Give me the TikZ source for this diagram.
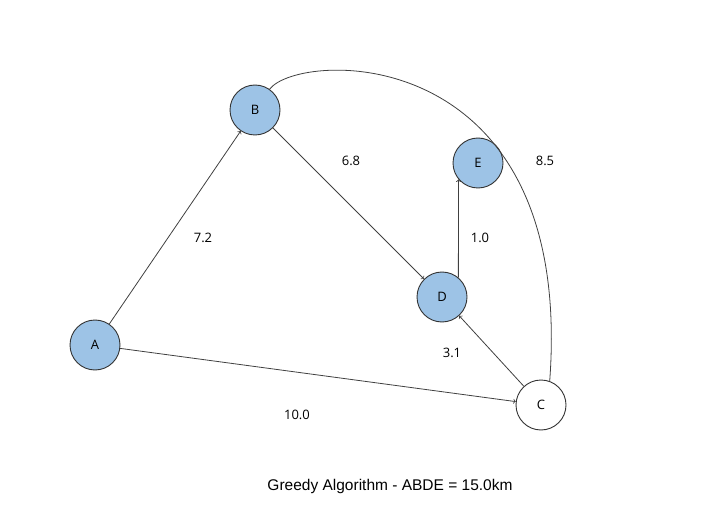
\documentclass[tikz,border=0pt]{standalone}
\usepackage{fontspec}
\setmainfont{Open Sans}
\newfontfamily\capfont{Liberation Sans}
\definecolor{nblue}{HTML}{9DC3E6}
\begin{document}
\begin{tikzpicture}[x=1pt,y=-1pt,
  vtx/.style={circle,draw=black!80,line width=0.9pt,minimum size=50pt,inner sep=0pt,font=\fontsize{13}{15}\selectfont},
  blue/.style={vtx,fill=nblue},
  edge/.style={draw=black!75,line width=0.8pt,->,>=to},
  lbl/.style={font=\fontsize{13}{15}\selectfont}]
\useasboundingbox (0,0) rectangle (723,513);
\node[blue] (A) at (95,345) {A};
\node[blue] (B) at (255,110) {B};
\node[blue] (E) at (478,163) {E};
\node[blue] (D) at (442,297) {D};
\node[vtx,fill=white] (C) at (541,405) {C};
\draw[edge] (A) -- (B);
\draw[edge] (B) -- (D);
\draw[edge] (D.50) -- (E.220);
\draw[edge] (C) -- (D);
\draw[edge] (A) -- (C);
\draw[draw=black!75,line width=0.8pt] (B.55) .. controls (300,50) and (575,40) .. (C.70);
\node[lbl] (l1) at (203,238) {7.2};
\node[lbl] (l2) at (351,161) {6.8};
\node[lbl] (l3) at (480,238) {1.0};
\node[lbl] (l4) at (452,353) {3.1};
\node[lbl] (l5) at (297,415) {10.0};
\node[lbl] (l6) at (545,161) {8.5};
\node[font=\capfont\fontsize{15.5}{18}\selectfont] (cap) at (390,486) {Greedy Algorithm - ABDE = 15.0km};
\end{tikzpicture}
\end{document}
